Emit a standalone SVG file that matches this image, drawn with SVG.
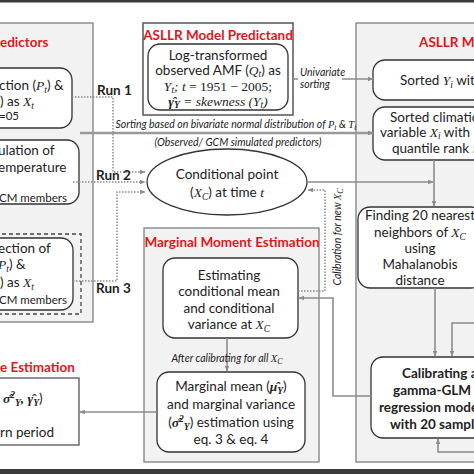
<svg xmlns="http://www.w3.org/2000/svg" width="474" height="474" viewBox="0 0 474 474">
<defs>
<marker id="ah" viewBox="0 0 10 10" refX="9" refY="5" markerWidth="6" markerHeight="6" orient="auto-start-reverse" markerUnits="userSpaceOnUse"><path d="M0,1 L10,5 L0,9 z" fill="#8c8c8c"/></marker>
<style>
text{font-family:Lato,"Open Sans","Liberation Sans",sans-serif;fill:#222}
.t{font-size:13.5px}
.s{font-size:11.5px}
.title{font-size:13.5px;font-weight:bold;fill:#e3151c}
.b{font-weight:bold;font-size:13.5px}
.it{font-style:italic;font-size:10.5px}
.m{font-family:"Liberation Serif","DejaVu Serif",serif;font-style:italic}
.mb{font-family:"Liberation Serif","DejaVu Serif",serif;font-style:italic;font-weight:bold}
.sub{font-size:9.5px}
.panel{fill:#f2f2f2;stroke:#7f7f7f;stroke-width:1.3}
.box{fill:#fff;stroke:#333;stroke-width:1.3}
.ln{fill:none;stroke:#8c8c8c;stroke-width:1.6}
.dot{fill:none;stroke:#8c8c8c;stroke-width:1.5;stroke-dasharray:1.5 1.5}
</style>
</defs>
<rect width="474" height="474" fill="#fff"/>
<rect x="0" y="0" width="474" height="2.5" fill="#3a3a3a"/>
<rect x="0" y="469" width="474" height="5" fill="#3a3a3a"/>

<g id="predictors">
<rect class="panel" x="-5" y="23" width="98" height="299"/>
<text class="title" x="0" y="47">edictors</text>
</g>
<g id="pred-observed">
<rect class="box" x="-12" y="68" width="84" height="60" rx="12"/>
<text class="t" x="-1" y="90">ction (<tspan class="m">P</tspan><tspan class="m sub" dy="3">t</tspan><tspan dy="-3">) &amp;</tspan></text>
<text class="t" x="0" y="106">) as <tspan class="m">X</tspan><tspan class="m sub" dy="3">t</tspan></text>
<text class="s" x="-1" y="120">=05</text>
</g>
<g id="pred-gcm-sim">
<rect class="box" x="-12" y="140" width="91" height="64" rx="12"/>
<text class="t" x="-2" y="155">ulation of</text>
<text class="t" x="-2" y="172">emperature</text>
<text class="s" x="-1" y="202">CM members</text>
</g>
<g id="pred-gcm-sel">
<rect x="-5" y="234" width="86" height="80" fill="none" stroke="#444" stroke-width="1.3" stroke-dasharray="4 3"/>
<rect class="box" x="-12" y="238" width="85" height="72" rx="12"/>
<text class="t" x="-2" y="253">ection of</text>
<text class="t" x="-2" y="269"><tspan class="m">P</tspan><tspan class="m sub" dy="3">t</tspan><tspan dy="-3">) &amp;</tspan></text>
<text class="t" x="0" y="287">) as <tspan class="m">X</tspan><tspan class="m sub" dy="3">t</tspan></text>
<text class="s" x="-1" y="304">CM members</text>
</g>

<g id="predictand">
<rect x="143" y="23" width="150" height="92" fill="#fff" stroke="#555" stroke-width="1.5"/>
<text class="title" x="218" y="40" text-anchor="middle">ASLLR Model Predictand</text>
<rect class="box" x="148" y="44" width="140" height="66" rx="12"/>
<text class="t" x="218" y="60" text-anchor="middle">Log-transformed</text>
<text class="t" x="218" y="75" text-anchor="middle">observed AMF (<tspan class="m">Q</tspan><tspan class="m sub" dy="2">t</tspan><tspan dy="-2">) as</tspan></text>
<text class="t" x="218" y="91" text-anchor="middle"><tspan class="m">Y</tspan><tspan class="m sub" dy="2">t</tspan><tspan dy="-2" class="m">; t</tspan><tspan font-family="Liberation Serif"> = 1951 − 2005;</tspan></text>
<text class="t" x="218" y="106" text-anchor="middle" font-size="12.5"><tspan class="mb">γ̂</tspan><tspan class="mb sub" dy="2">Y</tspan><tspan dy="-2" class="m"> = skewness (Y</tspan><tspan class="m sub" dy="2">t</tspan><tspan dy="-2" class="m">)</tspan></text>
</g>

<g id="calib-panel">
<rect class="panel" x="356" y="23" width="130" height="439"/>
<text class="title" x="419" y="47">ASLLR Model</text>
</g>
<g id="sorted-y">
<rect class="box" x="373" y="60" width="120" height="40" rx="12"/>
<text class="t" x="400" y="85">Sorted <tspan class="m">Y</tspan><tspan class="m sub" dy="3">i</tspan><tspan dy="-3"> with</tspan></text>
</g>
<g id="sorted-x">
<rect class="box" x="373" y="107" width="120" height="53" rx="12"/>
<text class="t" x="390" y="122">Sorted climatic</text>
<text class="t" x="380" y="137">variable <tspan class="m">X</tspan><tspan class="m sub" dy="2">i</tspan><tspan dy="-2"> with</tspan></text>
<text class="t" x="392" y="153">quantile rank <tspan class="m">i</tspan></text>
</g>
<g id="finding">
<rect class="box" x="358" y="207" width="125" height="81" rx="12"/>
<text class="t" x="420" y="220" text-anchor="middle">Finding 20 nearest</text>
<text class="t" x="420" y="237" text-anchor="middle">neighbors of <tspan class="m">X</tspan><tspan class="m sub" dy="3">C</tspan></text>
<text class="t" x="420" y="253" text-anchor="middle">using</text>
<text class="t" x="420" y="269" text-anchor="middle">Mahalanobis</text>
<text class="t" x="420" y="285" text-anchor="middle">distance</text>
</g>
<g id="calibrating">
<rect class="box" x="371" y="357" width="125" height="81" rx="12"/>
<text class="b" x="402" y="378">Calibrating a</text>
<text class="b" x="393" y="395">gamma-GLM</text>
<text class="b" x="379" y="412">regression model</text>
<text class="b" x="390" y="429">with 20 samples</text>
</g>

<g id="conditional-point">
<ellipse cx="227" cy="182" rx="80" ry="33" fill="#fff" stroke="#333" stroke-width="1.3"/>
<text class="t" x="227" y="179" text-anchor="middle">Conditional point</text>
<text class="t" x="227" y="197" text-anchor="middle">(<tspan class="m">X</tspan><tspan class="m sub" dy="3">C</tspan><tspan dy="-3">) at time </tspan><tspan class="m">t</tspan></text>
</g>

<g id="marginal-panel">
<rect class="panel" x="144" y="228" width="175" height="234"/>
<text class="title" x="232" y="247" text-anchor="middle">Marginal Moment Estimation</text>
</g>
<g id="estimating">
<rect class="box" x="163" y="258" width="135" height="80" rx="12"/>
<text class="t" x="229" y="280" text-anchor="middle">Estimating</text>
<text class="t" x="229" y="296" text-anchor="middle">conditional mean</text>
<text class="t" x="229" y="313" text-anchor="middle">and conditional</text>
<text class="t" x="229" y="329" text-anchor="middle">variance at <tspan class="m">X</tspan><tspan class="m sub" dy="3">C</tspan></text>
</g>
<g id="marginal-mean">
<rect class="box" x="157" y="372" width="148" height="80" rx="12"/>
<text class="t" x="231" y="391" text-anchor="middle">Marginal mean (<tspan class="mb">μ̂</tspan><tspan class="mb sub" dy="3">Y</tspan><tspan dy="-3">)</tspan></text>
<text class="t" x="231" y="409" text-anchor="middle">and marginal variance</text>
<text class="t" x="231" y="427" text-anchor="middle">(<tspan class="mb">σ̂</tspan><tspan class="mb sub" dy="-5">2</tspan><tspan class="mb sub" dy="8">Y</tspan><tspan dy="-3">) estimation using</tspan></text>
<text class="t" x="231" y="444" text-anchor="middle">eq. 3 &amp; eq. 4</text>
</g>

<g id="quantile-estimation">
<text class="title" x="0" y="372">e Estimation</text>
<rect x="-5" y="378" width="84" height="67" fill="#fff" stroke="#555" stroke-width="1.3"/>
<text class="t" x="3" y="403"><tspan class="mb">σ̂</tspan><tspan class="mb sub" dy="-5">2</tspan><tspan class="mb sub" dy="8">Y</tspan><tspan class="mb" dy="-3">, γ̂</tspan><tspan class="mb sub" dy="3">Y</tspan><tspan dy="-3">)</tspan></text>
<text class="t" x="0" y="437">rn period</text>
</g>

<g id="connectors">
<path class="dot" d="M72,97 H113 V172 H145" marker-end="url(#ah)"/>
<path class="dot" d="M73,182 H145" marker-end="url(#ah)"/>
<path class="dot" d="M73,281 H117 V192 H145" marker-end="url(#ah)"/>
<path d="M80,133 H373" fill="none" stroke="#999" stroke-width="2.5" marker-end="url(#ah)"/>
<path class="ln" d="M293,79 H373" marker-end="url(#ah)"/>
<path class="ln" d="M307,182 H433" marker-end="url(#ah)"/>
<path class="ln" d="M434,160 V206" marker-end="url(#ah)"/>
<path class="ln" d="M435,288 V356" marker-end="url(#ah)"/>
<path class="ln" d="M476,323 H452 V356" marker-end="url(#ah)"/>
<path class="ln" d="M476,452 H438 V439" marker-end="url(#ah)"/>
<path class="ln" d="M371,396 H333 V298 H299" marker-end="url(#ah)"/>
<path class="dot" d="M298,291 H325 V190 H308" marker-end="url(#ah)"/>
<path class="ln" d="M227,338 V371" marker-end="url(#ah)"/>
<path class="ln" d="M157,412 H80" marker-end="url(#ah)"/>
<text class="b" x="97" y="95">Run 1</text>
<text class="b" x="96" y="180">Run 2</text>
<text class="b" x="96" y="293">Run 3</text>
<text class="it" x="236" y="128" text-anchor="middle">Sorting based on bivariate normal distribution of <tspan class="m">P</tspan><tspan class="m" font-size="8" dy="2">t</tspan><tspan dy="-2"> &amp; </tspan><tspan class="m">T</tspan><tspan class="m" font-size="8" dy="2">t</tspan></text>
<text class="it" x="238" y="146" text-anchor="middle">(Observed/ GCM simulated predictors)</text>
<rect x="298" y="65" width="44" height="26" fill="#fff"/>
<text class="it" x="300" y="76">Univariate</text>
<text class="it" x="300" y="88">sorting</text>
<text class="it" x="341" y="237" text-anchor="middle" transform="rotate(-90 341 237)">Calibration for new <tspan class="m">X</tspan><tspan class="m" font-size="8" dy="2">C</tspan></text>
<text class="it" x="227" y="362" text-anchor="middle">After calibrating for all <tspan class="m">X</tspan><tspan class="m" font-size="8" dy="2">C</tspan></text>
</g>
</svg>
